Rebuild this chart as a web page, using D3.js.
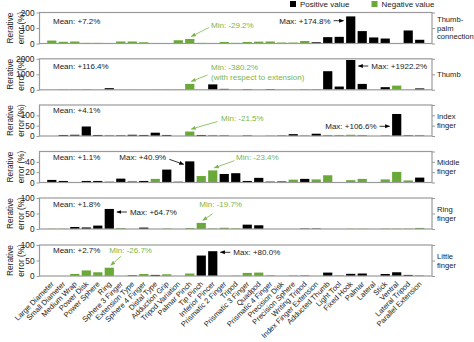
<!DOCTYPE html>
<html>
<head>
<meta charset="utf-8">
<script src="https://cdn.jsdelivr.net/npm/d3@7"></script>
<style>
  body { margin: 0; background: #fff; }
  svg { display: block; }
  text { font-family: "Liberation Sans", Arial, sans-serif; fill: #1a1a1a; }
</style>
</head>
<body>
<div id="chart"></div>
<script>
// grasp types along the x axis
const categories = [
  "Large Diameter", "Small Diameter", "Medium Wrap", "Power Disk", "Power Sphere",
  "Ring", "Sphere 3 Finger", "Extension Type", "Sphere 4 Finger", "Distal Type",
  "Adduction Grip", "Tripod Variation", "Palmar Pinch", "Tip Pinch", "Inferior Pincer",
  "Prismatic 2 Finger", "Tripod", "Prismatic 3 Finger", "Quadpod", "Prismatic 4 Finger",
  "Precision Disk", "Precision Sphere", "Writing Tripod", "Index Finger Extension",
  "Adducted Thumb", "Light Tool", "Fixed Hook", "Palmar", "Lateral", "Stick",
  "Ventral", "Lateral Tripod", "Parallel Extension"
];

// relative error (%) per grasp, sign kept (negative -> green bar)
const thumbPalm = [-19, -11, -13, -4, -4, 0, -13, -13, -8, 0, -2, -21, -29.2, -4, -3, -10, -4,
  -10, -12, -13, -6, -6, -16, 8, 41, 43, 174.8, 80, 39, 32, 0, 84, 24];
const thumb = [0, 10, 10, -40, 0, 105, 0, -10, -10, -15, 10, 10, -380.2, 0, 350, 60, 0,
  40, 0, 50, 0, 0, 20, 20, 1200, 210, 1922.2, 380, 0, 170, -270, 0, 90];
const indexFinger = [0, 5, 6, 46, 5, -5, 3, 6, 5, 16, 5, 0, -21.5, 5, -5, -5, 0,
  -5, 0, -2, 2, 9, -3, 11, -5, -5, -6, -5, 0, -3, 106.6, 3, -5];
const middleFinger = [5, 3, 0, 3, 3, -2, 7.5, -3, 3, -7, 25, 1.5, 40.9, -12.5, -23.4, 16.5, 18,
  3, 9, -2.5, 2, -5.5, 7, -6, -14, 0, -4.5, -7, 0, -6, -20.5, -4, 9.5];
const ringFinger = [-1, -1, 6.5, 5, 11, 64.7, -3, 0, 4.5, 0, -1.5, 0, -3, -19.7, -1.5, -4, -2,
  14, 12, 0, 0, 0, 1.5, 1.5, 0, 0, -0.8, -0.8, 0, -1, -1, -1, -3.5];
const littleFinger = [0, 0, -6.7, -18, -12, -26.7, 0, 2, -6.5, 3.5, -5.5, 0, -8, 66, 80.0, 0, -1,
  -10, -11, -2, 0, -1.5, -2.5, 0, 11, 1, 7, 8, 0, 6.5, 12, 3.5, 1];

const series = [thumbPalm, thumb, indexFinger, middleFinger, ringFinger, littleFinger];
const panelNames = [["Thumb-", "palm", "connection"], ["Thumb"], ["Index", "finger"],
  ["Middle", "finger"], ["Ring", "finger"], ["Little", "finger"]];
const meanValues = [7.2, 116.4, 4.1, 1.1, 1.8, 2.7];
const yMax = [200, 2000, 150, 60, 100, 100];
const yTicks = [[0, 100, 200], [0, 1000, 2000], [0, 50, 100], [0, 20, 40], [0, 50, 100], [0, 50, 100]];
const legendLabels = ["Positive value", "Negative value"];

const W = 474, H = 342;
const POS = "#000000", NEG = "#6aa838", NEG_TEXT = "#7ab64a", FRAME = "#9a9a9a";
const FS = 8;
const left = 39.5, right = 432;
const panelTop = [12.5, 58.8, 105, 151.5, 198, 245];
const panelH = 31;

// where the notes sit in each panel
const notes = [
  { mean: [53, 21.3], min: { at: [211, 24.7], from: [209, 27.5] }, max: { side: "left", y: 20.7 } },
  { mean: [53, 66], min: { at: [211, 67], from: [207.5, 75], sub: "(with respect to extension)" }, max: { side: "right", y: 66 } },
  { mean: [53, 109.7], min: { at: [221, 118], from: [217.5, 121.5] }, max: { side: "left", y: 126.3 } },
  { mean: [53, 156.7], min: { at: [236, 157.3], from: [234.3, 160.7] }, max: { side: "diag", at: [119.3, 156.7], from: [169.3, 159.3] } },
  { mean: [53, 203.7], min: { at: [199.3, 204.3], from: [212.7, 213.7] }, max: { side: "right", y: 212 } },
  { mean: [53, 249.7], min: { at: [109.3, 249.7], from: [121, 256.3] }, max: { side: "right", y: 252.3 } }
];

const svg = d3.select("#chart").append("svg")
  .attr("width", W).attr("height", H);

const defs = svg.append("defs");
[["headBlack", POS], ["headGreen", NEG_TEXT]].forEach(([id, c]) => {
  defs.append("marker")
    .attr("id", id).attr("viewBox", "0 0 10 10")
    .attr("refX", 9).attr("refY", 5)
    .attr("markerWidth", 5).attr("markerHeight", 5)
    .attr("markerUnits", "userSpaceOnUse")
    .attr("orient", "auto")
    .append("path").attr("d", "M0,1L10,5L0,9Z").attr("fill", c);
});

const x = d3.scaleBand()
  .domain(categories)
  .range([left, right])
  .paddingInner(0.2)
  .paddingOuter(0.67);

const fmt = v => (v >= 0 ? "+" : "") + v.toFixed(1) + "%";

series.forEach((vals, p) => {
  const top = panelTop[p], bottom = top + panelH;
  const y = d3.scaleLinear().domain([0, yMax[p]]).range([bottom, top]);
  const g = svg.append("g");

  // bars: height is the magnitude, colour is the sign
  g.selectAll("rect.bar")
    .data(vals.map((v, i) => ({ cat: categories[i], v })))
    .join("rect")
    .attr("class", "bar")
    .attr("x", d => x(d.cat))
    .attr("width", x.bandwidth())
    .attr("y", d => y(Math.abs(d.v)))
    .attr("height", d => bottom - y(Math.abs(d.v)))
    .attr("fill", d => d.v < 0 ? NEG : POS);

  // left axis with labels, right axis mirrors the ticks
  const ax = g.append("g").attr("transform", `translate(${left},0)`)
    .call(d3.axisLeft(y).tickValues(yTicks[p]).tickFormat(d3.format("d")).tickSize(3).tickPadding(2));
  ax.select(".domain").remove();
  ax.selectAll("line").attr("stroke", FRAME);
  ax.selectAll("text").attr("font-size", FS + 0.3).attr("fill", "#1a1a1a").attr("font-family", null);

  const axR = g.append("g").attr("transform", `translate(${right},0)`)
    .call(d3.axisRight(y).tickValues(d3.range(0, yMax[p] + 1e-9, yTicks[p][1])).tickSize(3).tickFormat(""));
  axR.select(".domain").remove();
  axR.selectAll("line").attr("stroke", FRAME);

  g.append("rect")
    .attr("x", left).attr("y", top)
    .attr("width", right - left).attr("height", panelH)
    .attr("fill", "none").attr("stroke", FRAME).attr("stroke-width", 1.2);

  // y label
  const yl = g.append("text")
    .attr("transform", `translate(0,${top + panelH / 2}) rotate(-90)`)
    .attr("text-anchor", "middle").attr("font-size", FS + 0.3);
  yl.append("tspan").attr("x", 0).attr("y", 13).text("Rerative");
  yl.append("tspan").attr("x", 0).attr("y", 23.5).text("error (%)");

  // panel name on the right
  const names = panelNames[p];
  const nt = g.append("text").attr("font-size", 7.6);
  names.forEach((s, k) => {
    nt.append("tspan")
      .attr("x", 437)
      .attr("y", top + panelH / 2 + (k - (names.length - 1) / 2) * 8.8)
      .attr("dy", "0.35em").text(s);
  });

  // mean / min / max notes
  const n = notes[p];
  g.append("text").attr("x", n.mean[0]).attr("y", n.mean[1]).attr("dy", "0.35em")
    .attr("font-size", FS).text("Mean: " + fmt(meanValues[p]));

  const iMin = d3.minIndex(vals), iMax = d3.maxIndex(vals);
  const vMin = vals[iMin], vMax = vals[iMax];

  g.append("text").attr("x", n.min.at[0]).attr("y", n.min.at[1]).attr("dy", "0.35em")
    .attr("font-size", FS).style("fill", NEG_TEXT).text("Min: " + fmt(vMin));
  if (n.min.sub) {
    g.append("text").attr("x", n.min.at[0]).attr("y", n.min.at[1] + 9.7).attr("dy", "0.35em")
      .attr("font-size", FS).style("fill", NEG_TEXT).text(n.min.sub);
  }
  const cxMin = x(categories[iMin]) + x.bandwidth() / 2;
  g.append("line")
    .attr("x1", n.min.from[0]).attr("y1", n.min.from[1])
    .attr("x2", cxMin + 1.5).attr("y2", y(Math.abs(vMin)) - 2.5)
    .attr("stroke", NEG_TEXT).attr("stroke-width", 0.8)
    .attr("marker-end", "url(#headGreen)");

  const bx = x(categories[iMax]), bw = x.bandwidth();
  const maxText = "Max: " + fmt(vMax);
  let a;
  if (n.max.side === "left") {
    a = { x1: bx - 12.5, y1: n.max.y, x2: bx - 2.5, y2: n.max.y };
    g.append("text").attr("x", a.x1 - 3).attr("y", n.max.y).attr("dy", "0.35em")
      .attr("text-anchor", "end").attr("font-size", FS).text(maxText);
  } else if (n.max.side === "right") {
    a = { x1: bx + bw + 13, y1: n.max.y, x2: bx + bw + 3, y2: n.max.y };
    g.append("text").attr("x", a.x1 + 3).attr("y", n.max.y).attr("dy", "0.35em")
      .attr("font-size", FS).text(maxText);
  } else {
    a = { x1: n.max.from[0], y1: n.max.from[1], x2: bx - 1.5, y2: y(vMax) + 3 };
    g.append("text").attr("x", n.max.at[0]).attr("y", n.max.at[1]).attr("dy", "0.35em")
      .attr("font-size", FS).text(maxText);
  }
  g.append("line").attr("x1", a.x1).attr("y1", a.y1).attr("x2", a.x2).attr("y2", a.y2)
    .attr("stroke", POS).attr("stroke-width", 0.8)
    .attr("marker-end", "url(#headBlack)");
});

// category labels under the last panel
const lastBottom = panelTop[5] + panelH;
svg.append("g").selectAll("text")
  .data(categories)
  .join("text")
  .attr("transform", d => `translate(${x(d) + x.bandwidth() / 2 + 2.5},${lastBottom + 8.5}) rotate(-45)`)
  .attr("text-anchor", "end")
  .attr("font-size", 7.5)
  .text(d => d);

// legend
const lg = svg.append("g");
[[POS, legendLabels[0], 290], [NEG, legendLabels[1], 371.5]].forEach(([c, t, lx]) => {
  lg.append("rect").attr("x", lx).attr("y", 1).attr("width", 6).attr("height", 6).attr("fill", c);
  lg.append("text").attr("x", lx + 10).attr("y", 4.3).attr("dy", "0.35em")
    .attr("font-size", FS).text(t);
});
</script>
</body>
</html>
